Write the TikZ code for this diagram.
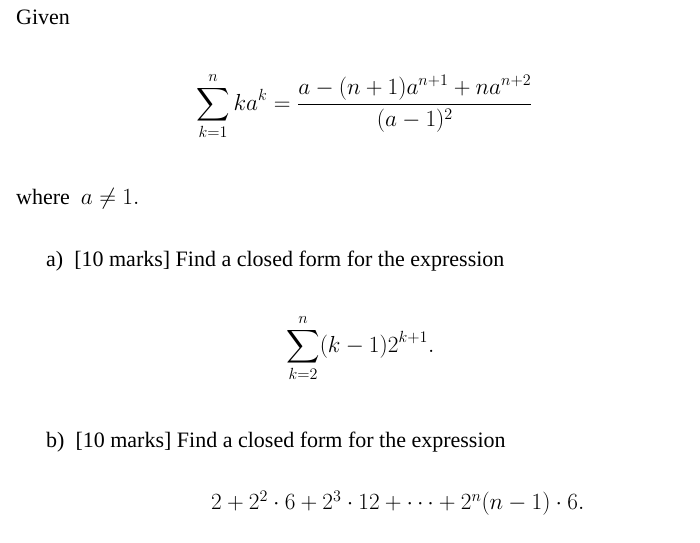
\documentclass[tikz,border=0pt]{standalone}
\usepackage{amsmath}
\usepackage{graphicx}
\usepackage{fontspec}
\setmainfont{Liberation Serif}
\begin{document}
\begin{tikzpicture}[x=1pt,y=-1pt,txt/.style={anchor=west,inner sep=0pt,font=\fontsize{22}{26}\selectfont}]
\useasboundingbox[fill=white] (0,0) rectangle (700,542);
\node[txt] (g) at (16,17) {Given};
\node[txt] (e1) at (196,106) {\scalebox{1.12}{$\displaystyle\sum_{k=1}^{n} ka^k=\frac{a-(n+1)a^{n+1}+na^{n+2}}{(a-1)^2}$}};
\node[txt] (w) at (16,199) {where \ \scalebox{1.12}{$a\neq 1.$}};
\node[txt] (a) at (46,261) {a)\ \ [10 marks] Find a closed form for the expression};
\node[txt] (e2) at (286,348) {\scalebox{1.12}{$\displaystyle\sum_{k=2}^{n}(k-1)2^{k+1}.$}};
\node[txt] (b) at (46,442) {b)\ \ [10 marks] Find a closed form for the expression};
\node[txt] (e3) at (211,503) {\scalebox{1.12}{$2+2^2\cdot 6+2^3\cdot 12+\cdots+2^n(n-1)\cdot 6.$}};
\end{tikzpicture}
\end{document}
